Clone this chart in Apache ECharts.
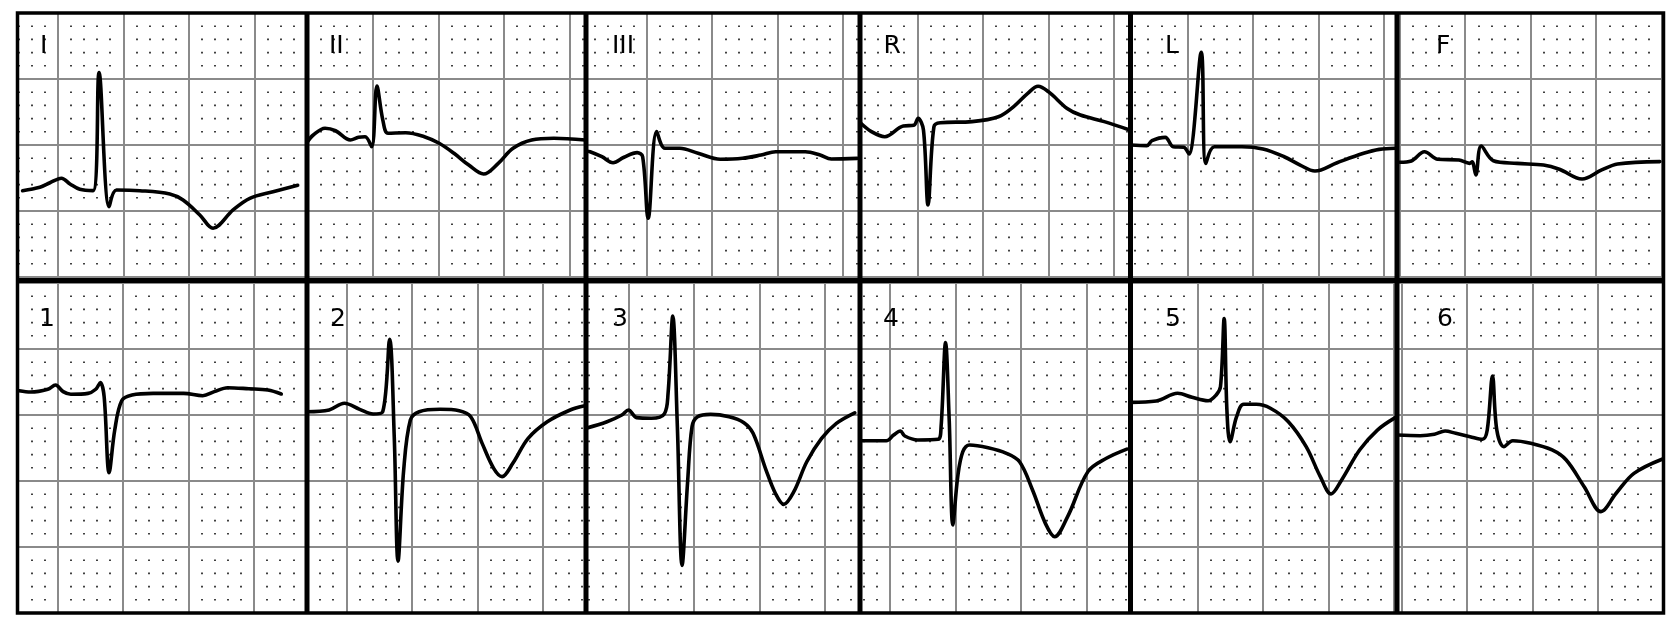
<!DOCTYPE html>
<html><head><meta charset="utf-8">
<script src="https://cdn.jsdelivr.net/npm/echarts@6/dist/echarts.min.js"></script>
<style>html,body{margin:0;padding:0;background:#fff}#c{width:1669px;height:620px}</style>
</head><body><div id="c"></div><script>
// Lead labels (row 1 then row 2)
const leadLabels = ['I', 'II', 'III', 'R', 'L', 'F', '1', '2', '3', '4', '5', '6'];

// Waveforms: [time in small boxes from the panel's first major line, amplitude in small boxes]
const leadI = [[-2.69,-3.46],[-1.37,-3.20],[-0.6,-2.86],[0.28,-2.52],[0.93,-2.95],[1.68,-3.36],[2.69,-3.46],[3.15,5.48],[3.92,-4.67],[4.48,-3.41],[6.26,-3.46],[8.55,-3.71],[9.56,-4.17],[10.84,-5.30],[11.85,-6.31],[13.38,-4.92],[14.66,-4.04],[16.43,-3.54],[18.31,-3.05]];
const leadII = [[-5.04,0.2],[-4.56,0.76],[-3.66,1.27],[-2.86,1.08],[-1.73,0.38],[-1.11,0.58],[-0.60,0.63],[-0.10,-0.13],[0.30,4.47],[0.75,1.89],[1.15,0.89],[2.50,0.93],[3.92,0.63],[5.05,0.13],[6.18,-0.63],[7.31,-1.52],[8.44,-2.20],[9.56,-1.39],[10.69,-0.25],[12.11,0.38],[13.80,0.51],[16.20,0.38]];
const leadIII = [[-4.63,-0.45],[-4.32,-0.51],[-3.42,-0.89],[-2.57,-1.34],[-1.73,-0.93],[-0.73,-0.58],[-0.31,-0.89],[0.11,-5.55],[0.76,1.01],[1.39,-0.25],[2.52,-0.25],[3.92,-0.63],[5.62,-1.08],[7.31,-1.01],[8.73,-0.76],[9.85,-0.51],[12.11,-0.51],[13.24,-0.76],[14.09,-1.06],[16.07,-1.01]];
const leadR = [[-4.37,1.7],[-3.50,1.01],[-2.48,0.63],[-1.07,1.44],[-0.27,1.49],[0.06,2.02],[0.47,1.14],[0.82,-4.55],[1.27,1.39],[1.76,1.69],[4.18,1.77],[6.19,2.14],[7.40,2.95],[8.41,3.89],[9.22,4.45],[10.03,4.02],[11.44,2.77],[12.45,2.27],[14.27,1.77],[16.21,1.14]];
const leadL = [[-4.35,0],[-3.11,-0.05],[-2.71,0.33],[-1.70,0.58],[-1.09,-0.13],[-0.29,-0.17],[0.11,-0.68],[1.05,7.02],[1.40,-1.39],[2.05,-0.13],[4.15,-0.13],[5.76,-0.30],[7.38,-0.89],[8.60,-1.52],[9.73,-1.97],[11.42,-1.34],[13.44,-0.63],[14.64,-0.33],[15.86,-0.25]];
const leadF = [[-5.0,-1.31],[-4.11,-1.21],[-3.11,-0.51],[-2.09,-1.08],[-0.48,-1.14],[0.33,-1.39],[0.53,-1.27],[0.81,-2.27],[1.22,-0.08],[2.15,-1.19],[3.96,-1.39],[5.98,-1.52],[7.19,-1.84],[8.92,-2.58],[10.42,-1.89],[11.63,-1.44],[14.86,-1.26]];
const leadV1 = [[-2.93,1.84],[-2.05,1.74],[-0.74,1.95],[-0.15,2.27],[0.43,1.77],[1.02,1.57],[2.33,1.64],[2.92,1.95],[3.27,2.45],[3.56,1.39],[3.94,-4.37],[4.37,-1.14],[4.90,1.08],[5.69,1.52],[7.30,1.64],[9.63,1.64],[11.09,1.46],[11.97,1.77],[12.99,2.07],[14.60,1.99],[16.06,1.89],[17.08,1.59]];
const leadV2 = [[-3.0,0.25],[-1.31,0.38],[-0.15,0.89],[1.02,0.43],[2.05,0.08],[2.78,0.25],[3.31,5.73],[3.66,-1.65],[3.95,-11.07],[4.38,-4.17],[4.89,-0.38],[5.56,0.25],[7.16,0.43],[8.62,0.33],[9.50,-0.13],[10.37,-2.15],[11.25,-4.04],[11.89,-4.67],[12.71,-3.66],[13.88,-1.77],[15.34,-0.51],[17.09,0.38],[18.11,0.68]];
const leadV3 = [[-3.24,-1.0],[-1.64,-0.51],[-0.51,0],[0,0.38],[0.62,-0.20],[1.75,-0.25],[2.73,0.08],[3.02,1.64],[3.38,7.50],[3.73,-0.88],[4.09,-11.39],[4.51,-5.10],[4.85,-0.88],[5.27,-0.13],[6.27,0.05],[7.68,-0.13],[8.81,-0.58],[9.51,-1.39],[10.50,-4.17],[11.21,-5.93],[11.85,-6.77],[12.62,-5.81],[13.61,-3.54],[14.74,-1.77],[15.87,-0.63],[17.27,0.17]];
const leadV4 = [[-2.29,-1.95],[-0.28,-1.95],[0.28,-1.52],[0.79,-1.21],[1.13,-1.59],[2.12,-1.89],[3.67,-1.84],[3.90,-0.88],[4.24,5.48],[4.52,-0.38],[4.80,-8.33],[5.17,-4.67],[5.56,-2.78],[6.08,-2.27],[7.49,-2.48],[8.89,-2.90],[9.89,-3.54],[10.88,-5.68],[11.86,-8.21],[12.57,-9.22],[13.56,-7.70],[15.11,-4.29],[16.52,-3.28],[18.08,-2.58]];
const leadV5 = [[-5.1,0.96],[-3.13,1.06],[-1.50,1.65],[-0.40,1.34],[0.82,1.08],[1.44,1.52],[1.77,2.15],[2.05,7.30],[2.26,0.38],[2.50,-2.02],[3.00,-0.13],[3.54,0.81],[4.50,0.81],[5.58,0.51],[6.95,-0.51],[8.31,-2.40],[9.39,-4.67],[10.21,-5.98],[11.02,-4.92],[12.39,-2.65],[13.75,-1.14],[15.11,-0.20]];
const leadV6 = [[-5.36,-1.52],[-3.59,-1.57],[-2.50,-1.46],[-1.69,-1.21],[-0.87,-1.39],[0.22,-1.64],[1.17,-1.84],[1.53,-1.14],[1.93,2.95],[2.26,-1.14],[2.80,-2.40],[3.48,-1.95],[4.85,-2.14],[6.48,-2.65],[7.56,-3.41],[8.93,-5.43],[10.21,-7.32],[11.37,-5.93],[12.73,-4.42],[14.92,-3.33]];

const leads = [leadI, leadII, leadIII, leadR, leadL, leadF, leadV1, leadV2, leadV3, leadV4, leadV5, leadV6];

// ---- layout (pixels) ----
const colEdges = [17.5, 307, 586, 860, 1130.5, 1397, 1663.5];
const rowTop = [13, 281.5], rowBottom = [279.5, 613], rowZero = [145, 415];
const firstMajor = [[57.8, 373, 646.7, 917.3, 1187.5, 1465.2], [57.5, 346.3, 628.5, 890, 1197.3, 1467.2]];
const labelX = [[40, 329, 612, 883.5, 1165, 1436], [39, 330, 612, 883, 1165, 1437]];
const labelY = [46.5, 319];
const UX = 13.1, UY = 13.2;

const grid = [], xAxis = [], yAxis = [], series = [], graphic = [];
const gridLine = {show: true, showMinLine: false, showMaxLine: false, lineStyle: {color: '#8a8a8a', width: 2}};
for (let i = 0; i < 12; i++) {
  const r = Math.floor(i / 6), c = i % 6;
  const L = colEdges[c], R = colEdges[c + 1], T = rowTop[r], B = rowBottom[r], M = firstMajor[r][c];
  grid.push({left: L, top: T, width: R - L, height: B - T, show: false, containLabel: false});
  const firstDot = (rowZero[r] - T) % (5 * UY) + UY;
  xAxis.push({
    type: 'value', gridIndex: i, min: (L - M) / UX, max: (R - M) / UX, minInterval: 5, maxInterval: 5,
    axisLine: {show: false}, axisTick: {show: false}, axisLabel: {show: false},
    splitLine: gridLine,
    minorTick: {show: false, splitNumber: 5},
    minorSplitLine: {show: true, lineStyle: {color: '#111', width: 1.6,
      type: [1.6, UY - 1.6, 1.6, UY - 1.6, 1.6, UY - 1.6, 1.6, 2 * UY - 1.6],
      dashOffset: 5 * UY - (firstDot - 0.8)}}
  });
  yAxis.push({
    type: 'value', gridIndex: i, min: -(B - rowZero[r]) / UY, max: (rowZero[r] - T) / UY, minInterval: 5, maxInterval: 5,
    axisLine: {show: false}, axisTick: {show: false}, axisLabel: {show: false},
    splitLine: gridLine
  });
  series.push({
    type: 'line', xAxisIndex: i, yAxisIndex: i, data: leads[i], symbol: 'none', showSymbol: false,
    smooth: 0.35,
    lineStyle: {color: '#000', width: 3.6, join: 'round', cap: 'round'}, clip: true, silent: true, z: 5
  });
  graphic.push({type: 'text', x: labelX[r][c], y: labelY[r], z: 120,
    style: {text: leadLabels[i], fill: '#000', font: '25px "DejaVu Sans", sans-serif', align: 'left', verticalAlign: 'middle'}});
}
// panel borders
graphic.push({type: 'rect', z: 100, shape: {x: 17.5, y: 13, width: 1646, height: 600}, style: {fill: 'none', stroke: '#000', lineWidth: 3.5}});
graphic.push({type: 'line', z: 100, shape: {x1: 17.5, y1: 280.5, x2: 1663.5, y2: 280.5}, style: {stroke: '#000', lineWidth: 5}});
for (let c = 1; c < 6; c++) {
  graphic.push({type: 'line', z: 100, shape: {x1: colEdges[c], y1: 13, x2: colEdges[c], y2: 613}, style: {stroke: '#000', lineWidth: 5}});
}

const chart = echarts.init(document.getElementById('c'));
chart.setOption({animation: false, backgroundColor: '#fff', grid, xAxis, yAxis, series, graphic});
</script></body></html>
